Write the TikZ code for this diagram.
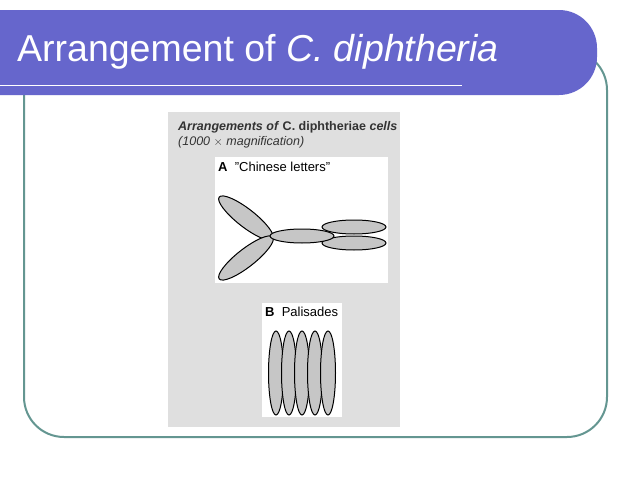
\documentclass[tikz,border=0pt]{standalone}
\usepackage{fontspec}
\setmainfont{Liberation Sans}
\begin{document}
\begin{tikzpicture}[x=1pt,y=-1pt,
  cell/.style={draw=black,fill=gray!45,line width=1pt},
  lbl/.style={inner sep=0pt,anchor=west}]
\useasboundingbox (0,0) rectangle (638,479);
\fill[white] (0,0) rectangle (638,479);
% frame
\draw[color={rgb,255:red,100;green,150;blue,145},line width=2pt,rounded corners=40pt] (24,50) rectangle (607,437);
% title bar
\fill[color={rgb,255:red,102;green,102;blue,204},rounded corners=38pt] (-40,10) rectangle (597,95);
\fill[color={rgb,255:red,102;green,102;blue,204}] (0,10) rectangle (100,95);
\draw[white,line width=1pt] (0,85) -- (462,85);
\node[lbl,text=white,font=\fontsize{37.5}{40}\selectfont] (title) at (17,52) {Arrangement of \textit{C. diphtheria}};
% figure
\fill[gray!25] (168,112) rectangle (400,427);
\node[lbl,font=\bfseries\itshape\fontsize{12.5}{14}\selectfont,text=black!80] (t1) at (178,127) {Arrangements of \textup{C. diphtheriae} cells};
\node[lbl,font=\itshape\fontsize{12.5}{14}\selectfont,text=black!80] (t2) at (178,142) {(1000 $\times$ magnification)};
\fill[white] (215,157) rectangle (388,283);
\fill[white] (262,303) rectangle (342,417);
\node[lbl,font=\fontsize{13}{15}\selectfont] (la) at (218,167) {\textbf{A}\ \ \char34 Chinese letters\char34};
\node[lbl,font=\fontsize{13}{15}\selectfont] (lb) at (265,312) {\textbf{B}\ \ Palisades};
\draw[cell,rotate around={-38:(246,218)}] (246,218) ellipse (34 and 9);
\draw[cell,rotate around={38:(246,258)}] (246,258) ellipse (34 and 9);
\draw[cell] (354,227) ellipse (32 and 7);
\draw[cell] (354,243) ellipse (32 and 7);
\draw[cell] (302,236) ellipse (32 and 7);
\foreach \x in {276,289,302,315,328} \draw[cell] (\x,373) ellipse (7.5 and 42);
\end{tikzpicture}
\end{document}
